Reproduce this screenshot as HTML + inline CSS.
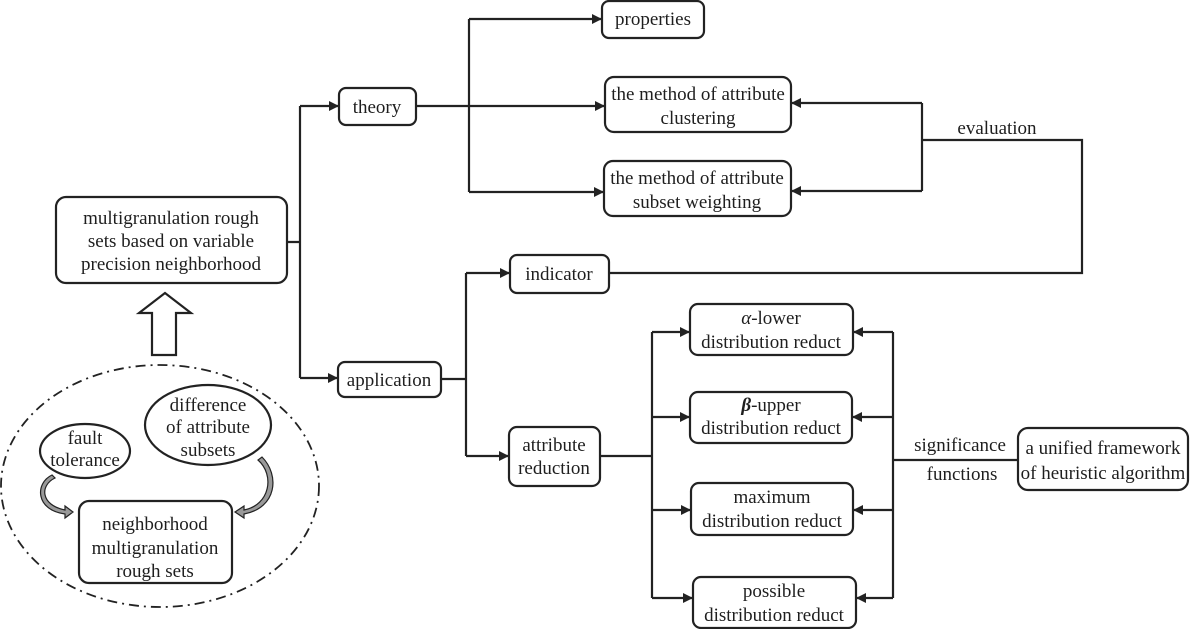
<!DOCTYPE html>
<html><head><meta charset="utf-8"><style>
html,body{margin:0;padding:0;background:#fff;}
svg{display:block;}
text{font-family:"Liberation Serif",serif;font-size:19px;fill:#1e1e1e;text-anchor:middle;}
</style></head><body>
<svg width="1200" height="629" viewBox="0 0 1200 629" xmlns="http://www.w3.org/2000/svg">
<defs>
<marker id="a" markerWidth="10" markerHeight="10" refX="9" refY="5" orient="auto" markerUnits="userSpaceOnUse">
<path d="M0,0 L10,5 L0,10 Z" fill="#222"/></marker>
</defs>
<g fill="none" stroke="#222" stroke-width="2.2">
<rect x="56" y="197" width="231" height="86" rx="10"/>
<rect x="339" y="88" width="77" height="37" rx="7"/>
<rect x="338" y="362" width="103" height="35" rx="7"/>
<rect x="602" y="1" width="102" height="37" rx="7"/>
<rect x="605" y="77" width="186" height="55" rx="9"/>
<rect x="604" y="161" width="187" height="55" rx="9"/>
<rect x="510" y="255" width="99" height="38" rx="7"/>
<rect x="509" y="427" width="91" height="59" rx="8"/>
<rect x="690" y="304" width="163" height="51" rx="8"/>
<rect x="690" y="392" width="162" height="51" rx="8"/>
<rect x="691" y="483" width="162" height="52" rx="8"/>
<rect x="693" y="577" width="163" height="51" rx="8"/>
<rect x="1018" y="428" width="170" height="62" rx="10"/>
<rect x="79" y="501" width="153" height="82" rx="10"/>
<path d="M287,242 H300 M300,106 V378"/>
<path d="M300,106 H338" marker-end="url(#a)"/>
<path d="M300,378 H337" marker-end="url(#a)"/>
<path d="M416,106 H604" marker-end="url(#a)"/>
<path d="M469,19 V192"/>
<path d="M469,19 H601" marker-end="url(#a)"/>
<path d="M469,192 H603" marker-end="url(#a)"/>
<path d="M441,379 H466 M466,273 V456"/>
<path d="M466,273 H509" marker-end="url(#a)"/>
<path d="M466,456 H508" marker-end="url(#a)"/>
<path d="M609,273 H1082 V140 H922 M922,103 V191"/>
<path d="M922,103 H792" marker-end="url(#a)"/>
<path d="M922,191 H792" marker-end="url(#a)"/>
<path d="M600,456 H652 M652,332 V598"/>
<path d="M652,332 H689" marker-end="url(#a)"/>
<path d="M652,417 H689" marker-end="url(#a)"/>
<path d="M652,510 H690" marker-end="url(#a)"/>
<path d="M652,598 H692" marker-end="url(#a)"/>
<path d="M893,332 V598 M893,460 H1018"/>
<path d="M893,332 H854" marker-end="url(#a)"/>
<path d="M893,417 H853" marker-end="url(#a)"/>
<path d="M893,510 H854" marker-end="url(#a)"/>
<path d="M893,598 H857" marker-end="url(#a)"/>
<path d="M152,355 V313 H139 L165,293 L191,313 H176 V355 Z"/>
<ellipse cx="160" cy="486" rx="159" ry="121" stroke-dasharray="10,5,2,5" stroke-width="1.8"/>
<ellipse cx="85" cy="451" rx="45" ry="27"/>
<ellipse cx="208" cy="425" rx="63" ry="40"/>
</g>
<g fill="#999" stroke="#222" stroke-width="1.2">
<path d="M55,478 C40,485 40,505 65,510 L65,506 L73,512 L65,518 L65,514 C35,510 35,483 52,475 Z"/>
<path d="M258,460 C275,475 270,505 244,510 L244,506 L235,512 L244,518 L244,514 C277,508 280,475 262,457 Z"/>
</g>
<text x="171" y="224">multigranulation rough</text>
<text x="171" y="247">sets based on variable</text>
<text x="171" y="270">precision neighborhood</text>
<text x="377" y="113">theory</text>
<text x="389" y="386">application</text>
<text x="653" y="25">properties</text>
<text x="698" y="100">the method of attribute</text>
<text x="698" y="124">clustering</text>
<text x="697" y="184">the method of attribute</text>
<text x="697" y="208">subset weighting</text>
<text x="559" y="280">indicator</text>
<text x="554" y="451">attribute</text>
<text x="554" y="474">reduction</text>
<text x="771" y="324"><tspan font-style="italic">α</tspan>-lower</text>
<text x="771" y="348">distribution reduct</text>
<text x="771" y="411"><tspan font-style="italic" font-weight="bold">β</tspan>-upper</text>
<text x="771" y="434">distribution reduct</text>
<text x="772" y="503">maximum</text>
<text x="772" y="527">distribution reduct</text>
<text x="774" y="597">possible</text>
<text x="774" y="621">distribution reduct</text>
<text x="1103" y="454">a unified framework</text>
<text x="1103" y="479">of heuristic algorithm</text>
<text x="960" y="451">significance</text>
<text x="962" y="480">functions</text>
<text x="997" y="134">evaluation</text>
<text x="85" y="444">fault</text>
<text x="85" y="466">tolerance</text>
<text x="208" y="411">difference</text>
<text x="208" y="433">of attribute</text>
<text x="208" y="456">subsets</text>
<text x="155" y="530">neighborhood</text>
<text x="155" y="554">multigranulation</text>
<text x="155" y="577">rough sets</text>
</svg>
</body></html>
